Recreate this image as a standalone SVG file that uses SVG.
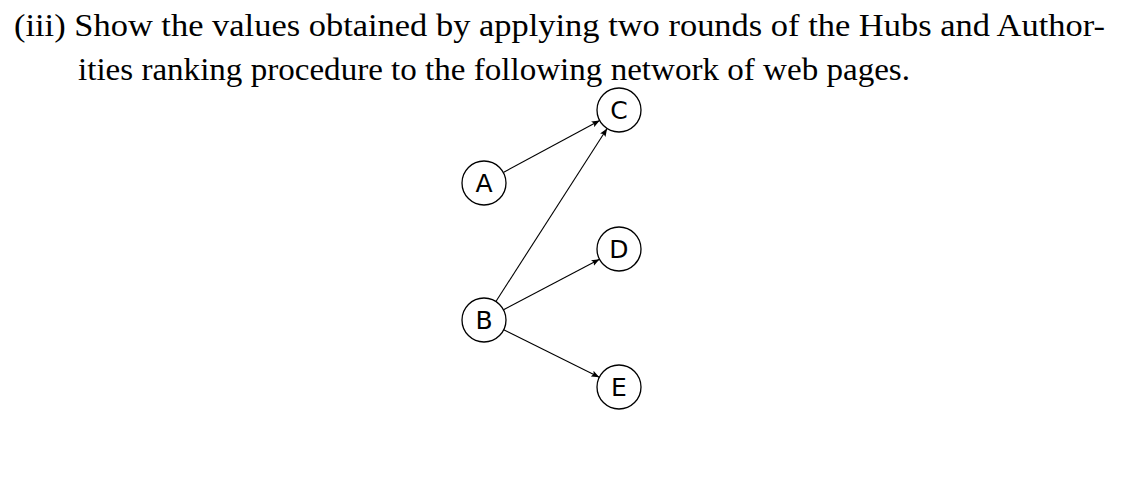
<svg xmlns="http://www.w3.org/2000/svg" width="1126" height="496" viewBox="0 0 1126 496">
<style>
.t{font-family:"Liberation Serif",serif;font-size:32px;fill:#000}
.n circle{fill:#fff;stroke:#000;stroke-width:1.3}
.n text{font-family:"DejaVu Sans","Liberation Sans",sans-serif;font-size:25px;text-anchor:middle;dominant-baseline:central;fill:#000}
.e line{stroke:#000;stroke-width:1.1;marker-end:url(#ah)}
</style>
<defs><marker id="ah" viewBox="0 0 10 8" refX="10" refY="4" markerWidth="8" markerHeight="6.4" markerUnits="userSpaceOnUse" orient="auto"><path d="M0,0L10,4L0,8L2,4z" fill="#000"/></marker></defs>
<rect width="1126" height="496" fill="#fff"/>
<text class="t" x="14" y="36" textLength="1091" lengthAdjust="spacingAndGlyphs">(iii) Show the values obtained by applying two rounds of the Hubs and Author-</text>
<text class="t" x="78" y="80" textLength="832" lengthAdjust="spacingAndGlyphs">ities ranking procedure to the following network of web pages.</text>
<g class="e" id="edges">
<line x1="503.3" y1="172.5" x2="599.7" y2="120.5"/>
<line x1="495.9" y1="301.5" x2="607.1" y2="128.5"/>
<line x1="503.5" y1="309.7" x2="599.5" y2="259.3"/>
<line x1="503.7" y1="329.8" x2="599.3" y2="377.2"/>
</g>
<g class="n" id="C"><circle cx="619" cy="110" r="22"/><text x="619" y="110">C</text></g>
<g class="n" id="A"><circle cx="484" cy="183" r="22"/><text x="484" y="183">A</text></g>
<g class="n" id="D"><circle cx="619" cy="249" r="22"/><text x="619" y="249">D</text></g>
<g class="n" id="B"><circle cx="484" cy="320" r="22"/><text x="484" y="320">B</text></g>
<g class="n" id="E"><circle cx="619" cy="387" r="22"/><text x="619" y="387">E</text></g>
</svg>
